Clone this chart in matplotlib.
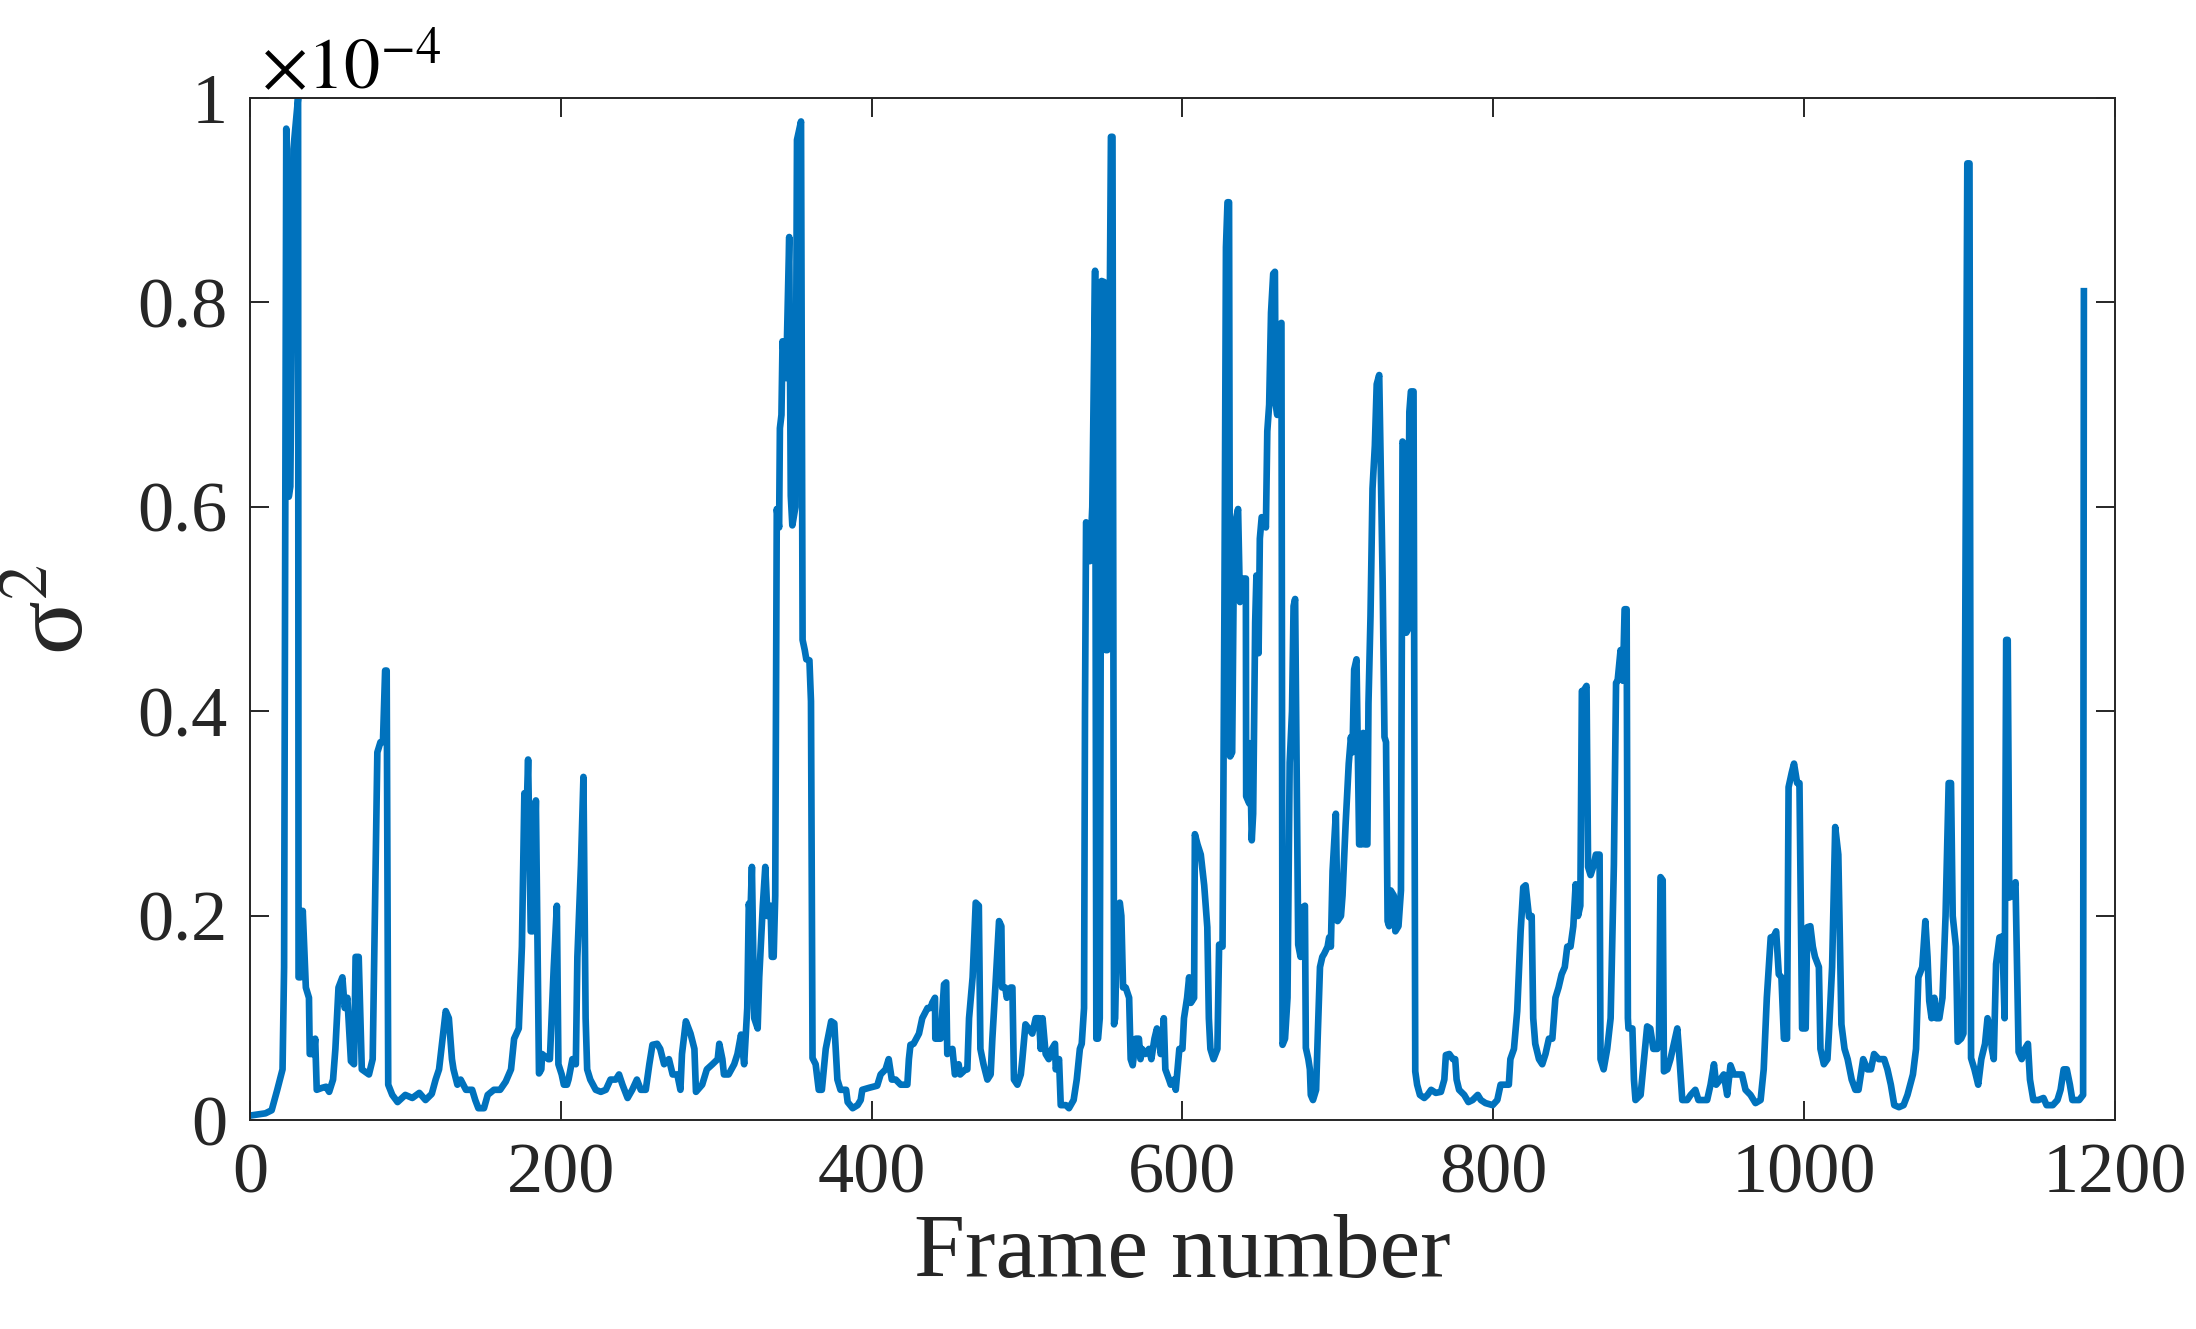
import matplotlib
matplotlib.use('Agg')
import matplotlib.pyplot as plt

# sigma^2 per frame, in units of 1e-4
frame = [
    1, 10, 14, 17.6, 21, 22, 23.4, 25, 26, 28, 31, 31.3, 32.6, 34, 36, 38, 38.5, 41, 42, 43,
    46.6, 49, 51, 53.5, 55, 57, 59.5, 61, 62.7, 65, 67, 68, 70, 72, 76.6, 79, 82, 84, 85.6, 87,
    88, 89, 91.6, 95, 100, 104.5, 109, 113, 117, 119.5, 121.7, 124, 126, 128, 130, 131, 133.5,
    135.6, 139, 143, 145, 147, 150.6, 153, 157, 161, 164.6, 168, 170, 173, 175, 176.6, 178, 179,
    180.7, 182, 184, 186, 187.5, 188, 192, 193, 195.5, 197.5, 198.5, 200.6, 202,
    204, 205, 207.5, 209.7, 210.7, 213, 214.6, 216, 217, 219, 222.5, 225.8, 229, 232, 235.4,
    237.5, 239.7, 243, 246, 249, 251.5, 254.7, 257, 259, 262, 264, 266.5, 269.6, 272, 275, 277,
    278, 280.5, 283.5, 286, 287, 291, 294, 297.6, 301, 302, 304, 305, 308, 311.6, 313.7, 316,
    318, 320, 321, 322, 323, 324.5, 326.7, 327.7, 330, 331.6, 333, 335, 335.8, 337, 338, 339,
    340.5, 341, 342, 342.7, 345, 347, 348, 349, 351, 352, 354.6, 355.6, 357, 358, 360, 361, 362,
    364, 366, 368, 370.5, 374, 376, 378, 380, 383.6, 384.6, 387.8, 391, 393, 394, 398.5,
    403.6, 405.8, 409, 411, 413, 415.5, 418.7, 423, 424, 425, 427, 430.5, 432.6, 436, 438, 439,
    440.8, 441, 444.4, 446.6, 448, 448.7, 452, 453.6, 456, 457, 460.5, 461.6, 462.7, 465, 467,
    469, 470, 472, 474.5, 476.6, 477.7, 480, 482, 483.5, 484, 486, 487, 489.5, 490.6, 491.6,
    493.8, 496, 497, 499, 501, 503.4, 505.6, 507.7, 508.8, 510, 512, 514, 516, 518, 518.5,
    520.6, 521.7, 525, 527, 530, 532, 534, 535.2, 536.7, 537.3, 538, 540, 540.5, 542, 543.8,
    544.6, 545.7, 546.8, 548, 549.6, 550.7, 551.7, 554, 555, 556, 556.7, 558, 559.7, 560.7,
    561.8, 563.5, 565.7, 566.7, 568, 570, 572, 573, 574, 576, 578.5, 580, 582, 583.6, 585, 586,
    587, 588, 589, 591.4, 592.5, 594.6, 595.7, 598,
    600, 601, 603, 604.3, 605.4, 607.5, 608, 609.7, 611.8, 614, 616, 617, 618, 620, 622.5,
    623.6, 625.8, 627, 628, 629, 630, 630.7, 632, 633, 634, 635.8, 637, 638, 639, 640.8, 641,
    643, 643.4, 644.6, 645.5, 646.8, 647.6, 649, 649.8, 651, 652.6, 653.7, 654.6, 655.8, 657,
    658.4, 659.5, 660, 661, 662, 663.7, 664.4, 666, 667.6, 669, 670.5, 671.5, 672.5, 674.5,
    676, 677, 678.8, 679.4, 681, 682, 682.6, 684, 686, 687, 688.5, 690, 691.2, 693.4, 694.4,
    695.5, 696.6, 698.7, 699.8, 702, 703, 705, 707, 708.4, 709.4, 710.5, 712, 713.7, 715.4,
    716.3, 717.4, 719, 719.7, 721, 722.3, 723.8, 725, 726.6, 728.8, 730, 731, 732, 733, 734,
    736, 737, 739, 740.6, 741.6, 743, 744, 745, 746, 747, 748.7, 749.8, 751, 752.8, 755.6,
    757.7, 760, 763, 766.3, 768.5, 769.5, 771.7, 774, 775.5, 776.4, 778, 781.3, 784, 786.7,
    790, 792, 795, 799.6,
    802.6, 804.7, 808, 810, 811, 813.3, 815.4, 817.6, 819.3, 820.8, 823, 824.7, 825.7, 827,
    829.4, 831.5, 833.6, 835.8, 838, 840, 842, 844, 846, 847.6, 849.7, 851.5, 853, 854.5, 856,
    857, 858, 860, 861, 862.6, 864.7, 866, 868.4, 869, 871, 873.3, 875.5, 877.6, 879, 880,
    881.9, 883.4, 884.5, 885.8, 886.6, 887, 889.5, 890.5, 891.5, 894.8, 897, 899, 901, 903,
    905.5, 906.6, 907.6, 909, 909.8, 912, 914, 916.2, 918.4, 919.4, 921.6, 924.8, 927, 930,
    932, 935.5, 937.6, 939.8, 942, 943.4, 946, 948.3, 950.5, 952.6, 954.8, 957, 960, 962.3,
    965.5, 968.7, 972, 974, 976, 978.5, 980.6, 982, 983.7, 985.4, 987, 989, 990, 992, 993.5,
    995.5, 997, 998.7, 1001,
    1002, 1004, 1005.6, 1007, 1009.5, 1010.5, 1012.7, 1015, 1016, 1018, 1020, 1022, 1024, 1026,
    1028, 1030.6, 1033, 1035, 1038, 1040.7, 1043, 1045, 1048, 1051.5, 1053.6, 1055.8, 1058,
    1061, 1064, 1066.5, 1070, 1072, 1073.5, 1076, 1078, 1079.4, 1080.5, 1082, 1083.8, 1085,
    1087, 1089, 1091, 1093, 1094.5, 1095.6, 1097.7, 1098.8, 1101, 1102.5, 1105, 1106.4, 1107.4,
    1109.6, 1112, 1114, 1116.4, 1118, 1119.7, 1120.8, 1122, 1123.5, 1125.7, 1127.5, 1129, 1130,
    1131, 1132, 1134, 1136, 1138, 1140, 1142, 1144, 1145.3, 1147.5, 1150.7, 1154, 1156, 1160,
    1163, 1165, 1167, 1169, 1171, 1172.6, 1175, 1177, 1179.5, 1180,
]
sigma2 = [
    0.005, 0.007, 0.01, 0.03, 0.05, 0.15, 0.97, 0.61, 0.62, 0.95, 1.0, 0.14, 0.14, 0.205, 0.13,
    0.12, 0.065, 0.065, 0.08, 0.03, 0.032, 0.033, 0.028, 0.04, 0.07, 0.13, 0.14, 0.11, 0.12,
    0.058, 0.055, 0.16, 0.16, 0.05, 0.045, 0.06, 0.36, 0.37, 0.37, 0.44, 0.44, 0.035, 0.025,
    0.018, 0.025, 0.022, 0.027, 0.02, 0.026, 0.04, 0.05, 0.08, 0.107, 0.1, 0.06, 0.05, 0.035,
    0.04, 0.03, 0.03, 0.02, 0.012, 0.012, 0.025, 0.03, 0.03, 0.038, 0.05, 0.08, 0.09, 0.17,
    0.32, 0.3, 0.353, 0.185, 0.185, 0.313, 0.046, 0.05, 0.065, 0.06, 0.06, 0.15, 0.21, 0.055,
    0.045, 0.035,
    0.035, 0.04, 0.06, 0.055, 0.16, 0.25, 0.336, 0.1, 0.05, 0.04, 0.03, 0.028, 0.03, 0.04, 0.04,
    0.045, 0.035, 0.022, 0.03, 0.04, 0.03, 0.03, 0.055, 0.074, 0.075, 0.07, 0.055, 0.06, 0.045,
    0.045, 0.03, 0.065, 0.097, 0.085, 0.07, 0.028, 0.035, 0.05, 0.055, 0.06, 0.075, 0.06, 0.045,
    0.045, 0.055, 0.065, 0.084, 0.055, 0.11, 0.212, 0.2, 0.248, 0.1, 0.09, 0.14, 0.21, 0.248,
    0.2, 0.21, 0.16, 0.16, 0.22, 0.598, 0.58, 0.677, 0.69, 0.762, 0.726, 0.864, 0.611, 0.582,
    0.6, 0.959, 0.977, 0.47, 0.46, 0.451, 0.45, 0.41, 0.061, 0.055, 0.03, 0.03, 0.07, 0.097,
    0.095, 0.04, 0.03, 0.03, 0.018, 0.012, 0.015, 0.02, 0.03, 0.032,
    0.034, 0.045, 0.05, 0.06, 0.04, 0.04, 0.035, 0.035, 0.06, 0.074, 0.075, 0.085, 0.1, 0.11,
    0.11, 0.115, 0.12, 0.08, 0.08, 0.133, 0.135, 0.065, 0.07, 0.045, 0.055, 0.045, 0.05, 0.05,
    0.1, 0.14, 0.213, 0.21, 0.07, 0.055, 0.04, 0.045, 0.08, 0.14, 0.195, 0.19, 0.13, 0.13, 0.12,
    0.13, 0.13, 0.04, 0.035, 0.045, 0.06, 0.094, 0.09, 0.085, 0.1, 0.1, 0.07, 0.1, 0.065, 0.06,
    0.07, 0.075, 0.05, 0.06, 0.015, 0.015, 0.012, 0.02, 0.04, 0.07, 0.075, 0.11, 0.4, 0.585,
    0.58, 0.547, 0.6, 0.831, 0.08, 0.08, 0.1, 0.821, 0.82, 0.46, 0.46, 0.962, 0.962, 0.094, 0.1,
    0.2, 0.213, 0.2, 0.13, 0.13, 0.12, 0.06, 0.054, 0.08, 0.08, 0.06, 0.07, 0.065, 0.07, 0.06,
    0.08, 0.09, 0.08, 0.065, 0.07, 0.1, 0.05, 0.04, 0.035, 0.04, 0.03, 0.07,
    0.07, 0.1, 0.12, 0.14, 0.115, 0.12, 0.28, 0.27, 0.26, 0.23, 0.189, 0.1, 0.07, 0.06, 0.07,
    0.172, 0.17, 0.5, 0.854, 0.898, 0.898, 0.356, 0.36, 0.53, 0.585, 0.598, 0.507, 0.51, 0.53,
    0.53, 0.317, 0.31, 0.369, 0.274, 0.3, 0.487, 0.533, 0.457, 0.569, 0.59, 0.588, 0.58, 0.674,
    0.7, 0.79, 0.828, 0.83, 0.7, 0.69, 0.778, 0.78, 0.074, 0.08, 0.12, 0.35, 0.4, 0.503, 0.51,
    0.172, 0.16, 0.208, 0.21, 0.071, 0.06, 0.05, 0.025, 0.02, 0.03, 0.08, 0.15, 0.16, 0.163,
    0.17, 0.179, 0.17, 0.244, 0.3, 0.195, 0.2, 0.22, 0.29, 0.349, 0.375, 0.36, 0.441, 0.451,
    0.27, 0.27, 0.379, 0.27, 0.27, 0.408, 0.493, 0.618, 0.66, 0.72, 0.729, 0.53, 0.375, 0.37,
    0.195, 0.19, 0.225, 0.22, 0.185, 0.19, 0.225, 0.664, 0.66, 0.477, 0.48, 0.693, 0.713, 0.713,
    0.048, 0.035, 0.025, 0.022, 0.025, 0.03, 0.027, 0.028, 0.04, 0.064, 0.065, 0.06, 0.06, 0.04,
    0.03, 0.025, 0.018, 0.02, 0.025, 0.02, 0.017, 0.015,
    0.02, 0.035, 0.035, 0.035, 0.06, 0.07, 0.107, 0.185, 0.228, 0.23, 0.199, 0.2, 0.1, 0.075,
    0.06, 0.055, 0.065, 0.08, 0.08, 0.12, 0.13, 0.143, 0.15, 0.17, 0.17, 0.19, 0.231, 0.2, 0.21,
    0.42, 0.42, 0.425, 0.248, 0.24, 0.25, 0.26, 0.26, 0.06, 0.05, 0.07, 0.1, 0.25, 0.428, 0.43,
    0.46, 0.43, 0.5, 0.5, 0.1, 0.09, 0.09, 0.04, 0.02, 0.025, 0.06, 0.092, 0.09, 0.07, 0.07,
    0.075, 0.238, 0.235, 0.048, 0.05, 0.06, 0.075, 0.09, 0.07, 0.02, 0.02, 0.025, 0.03, 0.02,
    0.02, 0.02, 0.035, 0.055, 0.035, 0.04, 0.045, 0.025, 0.054, 0.045, 0.045, 0.045, 0.03, 0.025,
    0.017, 0.02, 0.05, 0.12, 0.179, 0.18, 0.185, 0.143, 0.14, 0.08, 0.08, 0.326, 0.34, 0.349,
    0.33, 0.33, 0.09, 0.09,
    0.189, 0.19, 0.17, 0.16, 0.15, 0.07, 0.055, 0.06, 0.087, 0.15, 0.287, 0.26, 0.094, 0.07,
    0.06, 0.04, 0.03, 0.03, 0.06, 0.05, 0.05, 0.065, 0.06, 0.06, 0.05, 0.035, 0.015, 0.013,
    0.015, 0.025, 0.045, 0.07, 0.14, 0.15, 0.195, 0.16, 0.117, 0.1, 0.12, 0.1, 0.1, 0.12, 0.2,
    0.33, 0.33, 0.2, 0.17, 0.077, 0.08, 0.085, 0.936, 0.936, 0.061, 0.05, 0.035, 0.06, 0.075,
    0.1, 0.09, 0.07, 0.06, 0.153, 0.179, 0.18, 0.1, 0.47, 0.47, 0.218, 0.22, 0.233, 0.067, 0.06,
    0.07, 0.075, 0.04, 0.02, 0.02, 0.022, 0.015, 0.015, 0.02, 0.03, 0.05, 0.05, 0.035, 0.02,
    0.02, 0.02, 0.025, 0.811,
]

xticks = [0, 200, 400, 600, 800, 1000, 1200]
yticks = [0, 0.2, 0.4, 0.6, 0.8, 1.0]
ytick_labels = ['0', '0.2', '0.4', '0.6', '0.8', '1']

plt.rcParams['font.family'] = ['Liberation Serif', 'DejaVu Serif']
plt.rcParams['mathtext.fontset'] = 'stix'

fig = plt.figure(figsize=(10.98, 6.645), dpi=200)
ax = fig.add_axes([0.1138, 0.1569, 0.8493, 0.7694])

ax.plot(frame, sigma2, color='#0072BD', linewidth=2.4)

ax.set_xlim(0, 1200)
ax.set_ylim(0, 1)
ax.set_xticks(xticks)
ax.set_yticks(yticks)
ax.set_yticklabels(ytick_labels)
ax.tick_params(direction='in', length=7, width=0.7, top=True, right=True,
               labelsize=26, pad=8, colors='#262626')
for s in ax.spines.values():
    s.set_linewidth(0.7)
    s.set_color('#262626')

ax.set_xlabel('Frame number', fontsize=33, color='#262626', labelpad=2)
ax.set_ylabel('σ$^2$', fontsize=36, color='#262626', labelpad=12)
ax.text(0.006, 1.009, r'$\times10^{-4}$', transform=ax.transAxes,
        fontsize=26, va='baseline', ha='left')

fig.savefig('out.png', dpi=200)
